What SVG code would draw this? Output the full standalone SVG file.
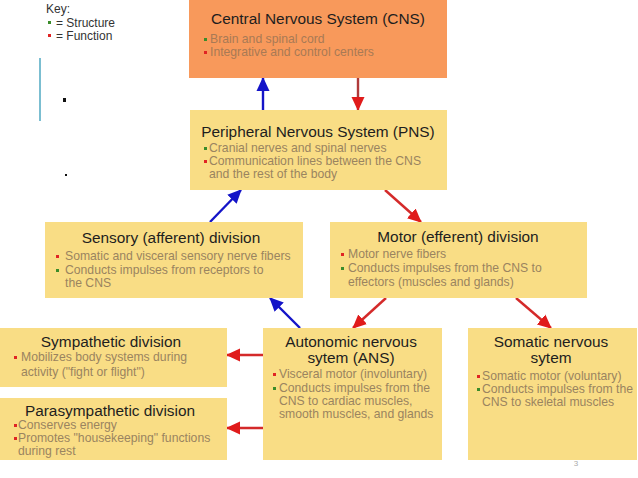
<svg xmlns="http://www.w3.org/2000/svg" width="638" height="478" viewBox="0 0 638 478">
<style>
text{font-family:"Liberation Sans",Arial,sans-serif}
.box{fill:#f9dd85}
.cns{fill:#f8995b}
.t{font-size:15.4px;fill:#1e1e1e;text-anchor:middle}
.b{font-size:12.2px;fill:#9a8460}
.bo{font-size:12.2px;fill:#a87a55}
.g{fill:#3b8c2a}
.r{fill:#e02424}
.key{font-size:12px;fill:#333}
.ab{stroke:#1414c8;stroke-width:2.4;fill:none}
.ar{stroke:#d42a2a;stroke-width:2.4;fill:none}
</style>
<defs>
<marker id="hb" markerUnits="userSpaceOnUse" markerWidth="14" markerHeight="14" viewBox="0 0 14 14" refX="13" refY="7" orient="auto"><path d="M0,0.5 L14,7 L0,13.5 Z" fill="#1414c8"/></marker>
<marker id="hr" markerUnits="userSpaceOnUse" markerWidth="14" markerHeight="14" viewBox="0 0 14 14" refX="13" refY="7" orient="auto"><path d="M0,0.5 L14,7 L0,13.5 Z" fill="#e01b1b"/></marker>
</defs>
<rect width="638" height="478" fill="#ffffff"/>
<g id="key">
<text class="key" x="46" y="13">Key:</text>
<rect class="g" x="48" y="21" width="3" height="3"/>
<text class="key" x="56" y="27">= Structure</text>
<rect class="r" x="48" y="34" width="3" height="3"/>
<text class="key" x="56" y="40">= Function</text>
</g>
<line x1="40" y1="58" x2="40" y2="121" stroke="#5aaec6" stroke-width="1.6"/>
<rect x="63" y="98" width="3" height="4" fill="#111"/>
<rect x="65" y="174" width="2" height="2" fill="#111"/>
<g id="connectors">
<line class="ab" x1="263" y1="110" x2="263" y2="78" marker-end="url(#hb)"/>
<line class="ar" x1="358" y1="78" x2="358" y2="110" marker-end="url(#hr)" style="stroke:#b03a3a"/>
<line class="ab" x1="210" y1="222" x2="241" y2="190" marker-end="url(#hb)"/>
<line class="ar" x1="385" y1="190" x2="421" y2="222" marker-end="url(#hr)"/>
<line class="ab" x1="300" y1="328" x2="270" y2="298" marker-end="url(#hb)"/>
<line class="ar" x1="386" y1="298" x2="353" y2="328" marker-end="url(#hr)"/>
<line class="ar" x1="516" y1="298" x2="551" y2="328" marker-end="url(#hr)"/>
<line class="ar" x1="263" y1="355" x2="227" y2="355" marker-end="url(#hr)"/>
<line class="ar" x1="263" y1="428" x2="227" y2="428" marker-end="url(#hr)"/>
</g>
<g id="cns">
<rect class="cns" x="189" y="0" width="258" height="78"/>
<text class="t" x="318" y="24">Central Nervous System (CNS)</text>
<rect class="g" x="204" y="38" width="3" height="3"/>
<text class="bo" x="210" y="43">Brain and spinal cord</text>
<rect class="r" x="204" y="51" width="3" height="3"/>
<text class="bo" x="210" y="56">Integrative and control centers</text>
</g>
<g id="pns">
<rect class="box" x="190" y="110" width="257" height="80"/>
<text class="t" x="318" y="137">Peripheral Nervous System (PNS)</text>
<rect class="g" x="204" y="147" width="3" height="3"/>
<text class="b" x="209" y="152">Cranial nerves and spinal nerves</text>
<rect class="r" x="204" y="160" width="3" height="3"/>
<text class="b" x="209" y="165">Communication lines between the CNS</text>
<text class="b" x="209" y="178">and the rest of the body</text>
</g>
<g id="sensory">
<rect class="box" x="45" y="222" width="258" height="76"/>
<text class="t" x="171" y="243">Sensory (afferent) division</text>
<rect class="r" x="56" y="255" width="3" height="3"/>
<text class="b" x="65" y="260">Somatic and visceral sensory nerve fibers</text>
<rect class="g" x="56" y="269" width="3" height="3"/>
<text class="b" x="65" y="274">Conducts impulses from receptors to</text>
<text class="b" x="65" y="287">the CNS</text>
</g>
<g id="motor">
<rect class="box" x="330" y="222" width="257" height="76"/>
<text class="t" x="458" y="242">Motor (efferent) division</text>
<rect class="r" x="341" y="253" width="3" height="3"/>
<text class="b" x="348" y="258">Motor nerve fibers</text>
<rect class="g" x="341" y="267" width="3" height="3"/>
<text class="b" x="348" y="272">Conducts impulses from the CNS to</text>
<text class="b" x="348" y="286">effectors (muscles and glands)</text>
</g>
<g id="sympathetic">
<rect class="box" x="0" y="328" width="227" height="59"/>
<text class="t" x="111" y="347">Sympathetic division</text>
<rect class="r" x="14" y="356" width="3" height="3"/>
<text class="b" x="21" y="361">Mobilizes body systems during</text>
<text class="b" x="21" y="376">activity ("fight or flight")</text>
</g>
<g id="parasympathetic">
<rect class="box" x="0" y="398" width="227" height="62"/>
<text class="t" x="110" y="416">Parasympathetic division</text>
<rect class="r" x="14" y="424" width="3" height="3"/>
<text class="b" x="18" y="429">Conserves energy</text>
<rect class="r" x="14" y="437" width="3" height="3"/>
<text class="b" x="18" y="442">Promotes "housekeeping" functions</text>
<text class="b" x="18" y="455">during rest</text>
</g>
<g id="ans">
<rect class="box" x="263" y="328" width="179" height="132"/>
<text class="t" x="351" y="347">Autonomic nervous</text>
<text class="t" x="351" y="363">sytem (ANS)</text>
<rect class="r" x="273" y="373" width="3" height="3"/>
<text class="b" x="279" y="378">Visceral motor (involuntary)</text>
<rect class="g" x="273" y="387" width="3" height="3"/>
<text class="b" x="279" y="392">Conducts impulses from the</text>
<text class="b" x="279" y="405">CNS to cardiac muscles,</text>
<text class="b" x="279" y="418">smooth muscles, and glands</text>
</g>
<g id="somatic">
<rect class="box" x="468" y="328" width="169" height="132"/>
<text class="t" x="551" y="347">Somatic nervous</text>
<text class="t" x="551" y="363">sytem</text>
<rect class="r" x="477" y="375" width="3" height="3"/>
<text class="b" x="482" y="380">Somatic motor (voluntary)</text>
<rect class="g" x="477" y="388" width="3" height="3"/>
<text class="b" x="482" y="393">Conducts impulses from the</text>
<text class="b" x="482" y="406">CNS to skeletal muscles</text>
</g>
<text x="576" y="466" style="font-size:8px;fill:#aaaaaa" text-anchor="middle">3</text>
</svg>
